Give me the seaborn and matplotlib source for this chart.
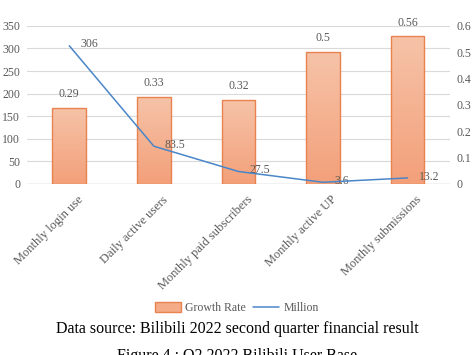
import numpy as np
import pandas as pd
import matplotlib.pyplot as plt
import matplotlib.colors as mcolors
import matplotlib.transforms as mtransforms
from matplotlib.lines import Line2D
from matplotlib.patches import Patch
import seaborn as sns

# Data
categories = ["Monthly login use", "Daily active users", "Monthly paid subscribers",
              "Monthly active UP", "Monthly submissions"]
growth_rate = [0.29, 0.33, 0.32, 0.5, 0.56]
million = [306, 83.5, 27.5, 3.6, 13.2]
left_ticks = [0, 50, 100, 150, 200, 250, 300, 350]
right_ticks = [0, 0.1, 0.2, 0.3, 0.4, 0.5, 0.6]

df = pd.DataFrame({"Category": categories, "Growth Rate": growth_rate, "Million": million})

sns.set_style("white")
plt.rcParams['font.family'] = ['Liberation Serif', 'DejaVu Serif']

gray = "#595959"
bar_edge = "#E8824F"
line_col = "#4A86C8"

fig = plt.figure(figsize=(4.74, 3.55), dpi=100)
ax = fig.add_axes([0.057, 0.482, 0.892, 0.445])

# bars (right axis, 0-0.6)
sns.barplot(data=df, x="Category", y="Growth Rate", ax=ax, width=0.4,
            color="#F4AC88", edgecolor=bar_edge, linewidth=1.0, zorder=3)
ax.set_ylim(0, 0.6)

# gradient fill inside each bar
cmap = mcolors.LinearSegmentedColormap.from_list("g", ["#F3A07A", "#F6C3A8"])
grad = np.linspace(0, 1, 100).reshape(-1, 1)
for p in ax.patches:
    x0, y0 = p.get_x(), p.get_y()
    w, h = p.get_width(), p.get_height()
    im = ax.imshow(grad, cmap=cmap, origin="lower", aspect="auto",
                   extent=[x0, x0 + w, y0, y0 + h], zorder=3.5)
    im.set_clip_path(p)
    p.set_facecolor("none")
    p.set_zorder(4)
ax.set_xlim(-0.5, 4.5)

for i, v in enumerate(growth_rate):
    ax.annotate(f"{v:g}", (i, v), xytext=(0, 10), textcoords="offset points",
                ha="center", va="center", fontsize=8.5, color=gray, zorder=6)

# line (left axis, 0-350)
ax2 = ax.twinx()
sns.lineplot(x=np.arange(len(categories)), y=million, ax=ax2, color=line_col,
             linewidth=1.1, zorder=5)
ax2.set_ylim(0, 350)
ax2.yaxis.tick_left()
ax2.set_yticks(left_ticks)
ax.yaxis.tick_right()
ax.set_yticks(right_ticks)
ax.set_yticklabels([f"{t:g}" for t in right_ticks])
for i, v in enumerate(million):
    ax2.annotate(f"{v:g}", (i, v), xytext=(8, 1), textcoords="offset points",
                 ha="left", va="center", fontsize=8.5, color=gray)

# grid on the bar axis aligned with the left scale
for t in left_ticks[1:]:
    ax.axhline(t / 350 * 0.6, color="#D9D9D9", linewidth=0.8, zorder=1)
ax.axhline(0, color="#BFBFBF", linewidth=1.0, zorder=2)

for a in (ax, ax2):
    for s in a.spines.values():
        s.set_visible(False)
    a.tick_params(axis="both", length=0, labelsize=8.5, labelcolor=gray, pad=5)
    a.set_xlabel("")
    a.set_ylabel("")
    a.grid(False)

ax.set_xticks(range(len(categories)))
ax.set_xticklabels(categories, rotation=45, ha="right", rotation_mode="anchor",
                   fontsize=9, color=gray)
ax.tick_params(axis="x", pad=7)
shift = mtransforms.ScaledTranslation(8 / 100, 0, fig.dpi_scale_trans)
for lbl in ax.get_xticklabels():
    lbl.set_transform(lbl.get_transform() + shift)

handles = [Patch(facecolor="#F4AC88", edgecolor=bar_edge, label="Growth Rate"),
           Line2D([0], [0], color=line_col, linewidth=1.1, label="Million")]
fig.legend(handles=handles, loc="center", bbox_to_anchor=(0.5, 0.132), ncol=2,
           frameon=False, fontsize=8.5, labelcolor=gray, handlelength=2.2,
           handleheight=0.9, columnspacing=0.6, handletextpad=0.4)

fig.text(0.5, 0.074, "Data source: Bilibili 2022 second quarter financial result",
         ha="center", va="center", fontsize=11.5, color="black")
fig.text(0.5, 0.021, "Figure 4 : Q2 2022 Bilibili User Base",
         ha="center", va="top", fontsize=11.5, color="black")

fig.savefig("out.png", dpi=100)
